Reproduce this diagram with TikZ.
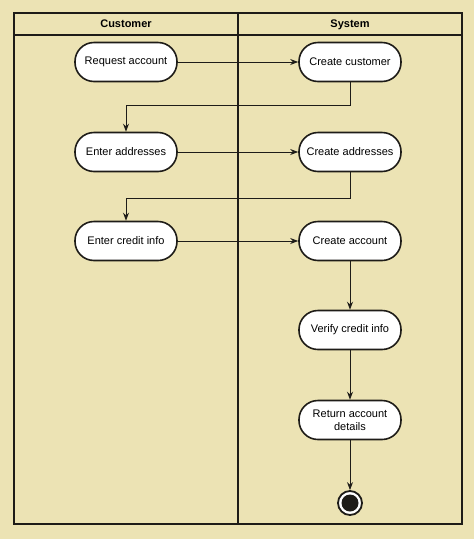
\documentclass[tikz,border=0pt]{standalone}
\usepackage{fontspec}
\setmainfont{Liberation Sans}
\usepackage{tikz}
\usetikzlibrary{arrows.meta}
\definecolor{laneCream}{RGB}{236,227,180}
\definecolor{laneInk}{RGB}{30,28,24}

\begin{document}
\begin{tikzpicture}[x=1pt,y=-1pt,
  action/.style={draw=laneInk, line width=1.6pt, fill=white, rectangle, rounded corners=19pt,
    minimum width=102pt, minimum height=39pt, align=center, font=\fontsize{11}{13}\selectfont},
  flow/.style={draw=laneInk, line width=1pt, -{Stealth[length=8pt,width=6pt]}},
  lanehead/.style={font=\fontsize{11}{13}\selectfont\bfseries, text height=8pt, text depth=2pt}]
%
\fill[laneCream] (0,0) rectangle (474,539);
\useasboundingbox (0,0) rectangle (474,539);
\draw[laneInk, line width=1.5pt] (14,13) rectangle (462,524);
\draw[laneInk, line width=1.5pt] (14,35) -- (462,35);
\draw[laneInk, line width=1.5pt] (238,13) -- (238,524);
\node[lanehead] (custHead) at (126,24) {Customer};
\node[lanehead] (sysHead) at (350,24) {System};

%
\node[action] (request) at (126,62) {Request account};
\node[action] (enterAddr) at (126,152) {Enter addresses};
\node[action] (enterCredit) at (126,241) {Enter credit info};

%
\node[action] (createCust) at (350,62) {Create customer};
\node[action] (createAddr) at (350,152) {Create addresses};
\node[action] (createAcct) at (350,241) {Create account};
\node[action] (verify) at (350,330) {Verify credit info};
\node[action] (returnAcct) at (350,420) {Return account\\details};
\node[circle, draw=laneInk, line width=1.8pt, fill=white, minimum size=24pt, inner sep=0pt] (finish) at (350,503) {};
\fill[laneInk] (finish.center) circle (8.5pt);

%
\draw[flow] (request) -- (createCust);
\draw[flow] (createCust.south) -- ++(0,23) -| (enterAddr.north);
\draw[flow] (enterAddr) -- (createAddr);
\draw[flow] (createAddr.south) -- ++(0,26) -| (enterCredit.north);
\draw[flow] (enterCredit) -- (createAcct);
\draw[flow] (createAcct) -- (verify);
\draw[flow] (verify) -- (returnAcct);
\draw[flow] (returnAcct) -- (finish);
\end{tikzpicture}
\end{document}
